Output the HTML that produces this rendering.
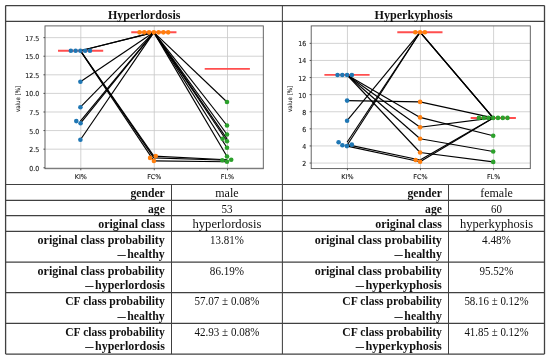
<!DOCTYPE html>
<html><head><meta charset="utf-8"><title>Counterfactual explanations</title>
<style>
html,body{margin:0;padding:0;background:#fff;}
body{width:550px;height:359px;overflow:hidden;}
svg{display:block;}
</style></head>
<body>
<svg width="550" height="359" viewBox="0 0 550 359">
<rect width="550" height="359" fill="#fff"/>
<line x1="45.0" y1="167.75" x2="263.3" y2="167.75" stroke="#c8c8c8" stroke-width="0.8"/>
<line x1="45.0" y1="149.16" x2="263.3" y2="149.16" stroke="#c8c8c8" stroke-width="0.8"/>
<line x1="45.0" y1="130.57" x2="263.3" y2="130.57" stroke="#c8c8c8" stroke-width="0.8"/>
<line x1="45.0" y1="111.99" x2="263.3" y2="111.99" stroke="#c8c8c8" stroke-width="0.8"/>
<line x1="45.0" y1="93.40" x2="263.3" y2="93.40" stroke="#c8c8c8" stroke-width="0.8"/>
<line x1="45.0" y1="74.81" x2="263.3" y2="74.81" stroke="#c8c8c8" stroke-width="0.8"/>
<line x1="45.0" y1="56.23" x2="263.3" y2="56.23" stroke="#c8c8c8" stroke-width="0.8"/>
<line x1="45.0" y1="37.64" x2="263.3" y2="37.64" stroke="#c8c8c8" stroke-width="0.8"/>
<line x1="80.8" y1="25.9" x2="80.8" y2="168.7" stroke="#c8c8c8" stroke-width="0.8"/>
<line x1="154.25" y1="25.9" x2="154.25" y2="168.7" stroke="#c8c8c8" stroke-width="0.8"/>
<line x1="227.5" y1="25.9" x2="227.5" y2="168.7" stroke="#c8c8c8" stroke-width="0.8"/>
<rect x="45.0" y="25.9" width="218.30" height="142.80" fill="none" stroke="#555" stroke-width="0.9"/>
<line x1="43.4" y1="167.75" x2="45.0" y2="167.75" stroke="#333" stroke-width="0.8"/>
<line x1="43.4" y1="149.16" x2="45.0" y2="149.16" stroke="#333" stroke-width="0.8"/>
<line x1="43.4" y1="130.57" x2="45.0" y2="130.57" stroke="#333" stroke-width="0.8"/>
<line x1="43.4" y1="111.99" x2="45.0" y2="111.99" stroke="#333" stroke-width="0.8"/>
<line x1="43.4" y1="93.40" x2="45.0" y2="93.40" stroke="#333" stroke-width="0.8"/>
<line x1="43.4" y1="74.81" x2="45.0" y2="74.81" stroke="#333" stroke-width="0.8"/>
<line x1="43.4" y1="56.23" x2="45.0" y2="56.23" stroke="#333" stroke-width="0.8"/>
<line x1="43.4" y1="37.64" x2="45.0" y2="37.64" stroke="#333" stroke-width="0.8"/>
<line x1="80.8" y1="168.7" x2="80.8" y2="170.29999999999998" stroke="#333" stroke-width="0.8"/>
<line x1="154.25" y1="168.7" x2="154.25" y2="170.29999999999998" stroke="#333" stroke-width="0.8"/>
<line x1="227.5" y1="168.7" x2="227.5" y2="170.29999999999998" stroke="#333" stroke-width="0.8"/>
<text x="39.2" y="170.70" text-anchor="end" font-family="'DejaVu Sans', sans-serif" font-size="6.9" textLength="9.97" lengthAdjust="spacingAndGlyphs" fill="#1a1a1a" stroke="#1a1a1a" stroke-width="0.12">0.0</text>
<text x="39.2" y="152.11" text-anchor="end" font-family="'DejaVu Sans', sans-serif" font-size="6.9" textLength="9.97" lengthAdjust="spacingAndGlyphs" fill="#1a1a1a" stroke="#1a1a1a" stroke-width="0.12">2.5</text>
<text x="39.2" y="133.52" text-anchor="end" font-family="'DejaVu Sans', sans-serif" font-size="6.9" textLength="9.97" lengthAdjust="spacingAndGlyphs" fill="#1a1a1a" stroke="#1a1a1a" stroke-width="0.12">5.0</text>
<text x="39.2" y="114.94" text-anchor="end" font-family="'DejaVu Sans', sans-serif" font-size="6.9" textLength="9.97" lengthAdjust="spacingAndGlyphs" fill="#1a1a1a" stroke="#1a1a1a" stroke-width="0.12">7.5</text>
<text x="39.2" y="96.35" text-anchor="end" font-family="'DejaVu Sans', sans-serif" font-size="6.9" textLength="13.96" lengthAdjust="spacingAndGlyphs" fill="#1a1a1a" stroke="#1a1a1a" stroke-width="0.12">10.0</text>
<text x="39.2" y="77.76" text-anchor="end" font-family="'DejaVu Sans', sans-serif" font-size="6.9" textLength="13.96" lengthAdjust="spacingAndGlyphs" fill="#1a1a1a" stroke="#1a1a1a" stroke-width="0.12">12.5</text>
<text x="39.2" y="59.18" text-anchor="end" font-family="'DejaVu Sans', sans-serif" font-size="6.9" textLength="13.96" lengthAdjust="spacingAndGlyphs" fill="#1a1a1a" stroke="#1a1a1a" stroke-width="0.12">15.0</text>
<text x="39.2" y="40.59" text-anchor="end" font-family="'DejaVu Sans', sans-serif" font-size="6.9" textLength="13.96" lengthAdjust="spacingAndGlyphs" fill="#1a1a1a" stroke="#1a1a1a" stroke-width="0.12">17.5</text>
<text x="80.8" y="179" text-anchor="middle" font-family="'DejaVu Sans', sans-serif" font-size="6.4" fill="#1a1a1a" stroke="#1a1a1a" stroke-width="0.12">KI%</text>
<text x="154.25" y="179" text-anchor="middle" font-family="'DejaVu Sans', sans-serif" font-size="6.4" fill="#1a1a1a" stroke="#1a1a1a" stroke-width="0.12">FC%</text>
<text x="227.5" y="179" text-anchor="middle" font-family="'DejaVu Sans', sans-serif" font-size="6.4" fill="#1a1a1a" stroke="#1a1a1a" stroke-width="0.12">FL%</text>
<text x="19.9" y="99.00" transform="rotate(-90 19.9 99.00)" text-anchor="middle" font-family="'DejaVu Sans', sans-serif" font-size="6.1" textLength="26.2" lengthAdjust="spacingAndGlyphs" fill="#2a2a2a" stroke="#2a2a2a" stroke-width="0.08">value [%]</text>
<line x1="58.00000000000001" y1="50.70" x2="103.20000000000002" y2="50.70" stroke="#ff4e4e" stroke-width="1.85"/>
<line x1="131.25" y1="32.20" x2="176.45" y2="32.20" stroke="#ff4e4e" stroke-width="1.85"/>
<line x1="204.70000000000002" y1="68.90" x2="249.9" y2="68.90" stroke="#ff4e4e" stroke-width="1.85"/>
<line x1="80.4" y1="50.70" x2="153.85" y2="32.35" stroke="#000" stroke-width="1.15"/>
<line x1="80.4" y1="50.70" x2="153.85" y2="32.35" stroke="#000" stroke-width="1.15"/>
<line x1="80.4" y1="81.80" x2="153.85" y2="32.35" stroke="#000" stroke-width="1.15"/>
<line x1="80.4" y1="107.20" x2="153.85" y2="32.35" stroke="#000" stroke-width="1.15"/>
<line x1="80.4" y1="121.10" x2="153.85" y2="32.35" stroke="#000" stroke-width="1.15"/>
<line x1="80.4" y1="123.30" x2="153.85" y2="32.35" stroke="#000" stroke-width="1.15"/>
<line x1="80.4" y1="139.80" x2="153.85" y2="32.35" stroke="#000" stroke-width="1.15"/>
<line x1="80.4" y1="50.70" x2="153.85" y2="156.10" stroke="#000" stroke-width="1.15"/>
<line x1="80.4" y1="50.70" x2="153.85" y2="157.90" stroke="#000" stroke-width="1.15"/>
<line x1="80.4" y1="50.70" x2="153.85" y2="160.90" stroke="#000" stroke-width="1.15"/>
<line x1="153.85" y1="32.35" x2="227.0" y2="102.00" stroke="#000" stroke-width="1.15"/>
<line x1="153.85" y1="32.35" x2="227.0" y2="125.50" stroke="#000" stroke-width="1.15"/>
<line x1="153.85" y1="32.35" x2="227.0" y2="134.50" stroke="#000" stroke-width="1.15"/>
<line x1="153.85" y1="32.35" x2="227.0" y2="138.80" stroke="#000" stroke-width="1.15"/>
<line x1="153.85" y1="32.35" x2="227.0" y2="141.20" stroke="#000" stroke-width="1.15"/>
<line x1="153.85" y1="32.35" x2="227.0" y2="147.80" stroke="#000" stroke-width="1.15"/>
<line x1="153.85" y1="32.35" x2="227.0" y2="156.50" stroke="#000" stroke-width="1.15"/>
<line x1="153.85" y1="156.10" x2="227.0" y2="159.80" stroke="#000" stroke-width="1.15"/>
<line x1="153.85" y1="157.90" x2="227.0" y2="160.30" stroke="#000" stroke-width="1.15"/>
<line x1="153.85" y1="160.90" x2="227.0" y2="161.70" stroke="#000" stroke-width="1.15"/>
<circle cx="70.84" cy="50.70" r="2.3" fill="#1f77b4"/>
<circle cx="75.62" cy="50.70" r="2.3" fill="#1f77b4"/>
<circle cx="80.4" cy="50.70" r="2.3" fill="#1f77b4"/>
<circle cx="85.18" cy="50.70" r="2.3" fill="#1f77b4"/>
<circle cx="89.96000000000001" cy="50.70" r="2.3" fill="#1f77b4"/>
<circle cx="80.4" cy="81.80" r="2.3" fill="#1f77b4"/>
<circle cx="80.4" cy="107.20" r="2.3" fill="#1f77b4"/>
<circle cx="76.30000000000001" cy="121.10" r="2.3" fill="#1f77b4"/>
<circle cx="80.60000000000001" cy="123.30" r="2.3" fill="#1f77b4"/>
<circle cx="80.4" cy="139.80" r="2.3" fill="#1f77b4"/>
<circle cx="139.51" cy="32.35" r="2.3" fill="#ff7f0e"/>
<circle cx="144.29" cy="32.35" r="2.3" fill="#ff7f0e"/>
<circle cx="149.07" cy="32.35" r="2.3" fill="#ff7f0e"/>
<circle cx="153.85" cy="32.35" r="2.3" fill="#ff7f0e"/>
<circle cx="158.63" cy="32.35" r="2.3" fill="#ff7f0e"/>
<circle cx="163.41" cy="32.35" r="2.3" fill="#ff7f0e"/>
<circle cx="168.19" cy="32.35" r="2.3" fill="#ff7f0e"/>
<circle cx="150.1" cy="157.90" r="2.3" fill="#ff7f0e"/>
<circle cx="155.7" cy="156.10" r="2.3" fill="#ff7f0e"/>
<circle cx="153.9" cy="160.90" r="2.3" fill="#ff7f0e"/>
<circle cx="227.0" cy="102.00" r="2.3" fill="#2ca02c"/>
<circle cx="227.0" cy="125.50" r="2.3" fill="#2ca02c"/>
<circle cx="227.0" cy="134.50" r="2.3" fill="#2ca02c"/>
<circle cx="222.6" cy="138.80" r="2.3" fill="#2ca02c"/>
<circle cx="227.0" cy="141.20" r="2.3" fill="#2ca02c"/>
<circle cx="227.0" cy="147.80" r="2.3" fill="#2ca02c"/>
<circle cx="227.0" cy="156.50" r="2.3" fill="#2ca02c"/>
<circle cx="222.3" cy="160.30" r="2.3" fill="#2ca02c"/>
<circle cx="227.0" cy="161.70" r="2.3" fill="#2ca02c"/>
<circle cx="231.2" cy="159.80" r="2.3" fill="#2ca02c"/>
<line x1="311.2" y1="163.05" x2="530.3" y2="163.05" stroke="#c8c8c8" stroke-width="0.8"/>
<line x1="311.2" y1="145.95" x2="530.3" y2="145.95" stroke="#c8c8c8" stroke-width="0.8"/>
<line x1="311.2" y1="128.85" x2="530.3" y2="128.85" stroke="#c8c8c8" stroke-width="0.8"/>
<line x1="311.2" y1="111.75" x2="530.3" y2="111.75" stroke="#c8c8c8" stroke-width="0.8"/>
<line x1="311.2" y1="94.65" x2="530.3" y2="94.65" stroke="#c8c8c8" stroke-width="0.8"/>
<line x1="311.2" y1="77.55" x2="530.3" y2="77.55" stroke="#c8c8c8" stroke-width="0.8"/>
<line x1="311.2" y1="60.45" x2="530.3" y2="60.45" stroke="#c8c8c8" stroke-width="0.8"/>
<line x1="311.2" y1="43.35" x2="530.3" y2="43.35" stroke="#c8c8c8" stroke-width="0.8"/>
<line x1="347.45" y1="25.9" x2="347.45" y2="168.6" stroke="#c8c8c8" stroke-width="0.8"/>
<line x1="420.45" y1="25.9" x2="420.45" y2="168.6" stroke="#c8c8c8" stroke-width="0.8"/>
<line x1="493.6" y1="25.9" x2="493.6" y2="168.6" stroke="#c8c8c8" stroke-width="0.8"/>
<rect x="311.2" y="25.9" width="219.10" height="142.70" fill="none" stroke="#555" stroke-width="0.9"/>
<line x1="309.59999999999997" y1="163.05" x2="311.2" y2="163.05" stroke="#333" stroke-width="0.8"/>
<line x1="309.59999999999997" y1="145.95" x2="311.2" y2="145.95" stroke="#333" stroke-width="0.8"/>
<line x1="309.59999999999997" y1="128.85" x2="311.2" y2="128.85" stroke="#333" stroke-width="0.8"/>
<line x1="309.59999999999997" y1="111.75" x2="311.2" y2="111.75" stroke="#333" stroke-width="0.8"/>
<line x1="309.59999999999997" y1="94.65" x2="311.2" y2="94.65" stroke="#333" stroke-width="0.8"/>
<line x1="309.59999999999997" y1="77.55" x2="311.2" y2="77.55" stroke="#333" stroke-width="0.8"/>
<line x1="309.59999999999997" y1="60.45" x2="311.2" y2="60.45" stroke="#333" stroke-width="0.8"/>
<line x1="309.59999999999997" y1="43.35" x2="311.2" y2="43.35" stroke="#333" stroke-width="0.8"/>
<line x1="347.45" y1="168.6" x2="347.45" y2="170.2" stroke="#333" stroke-width="0.8"/>
<line x1="420.45" y1="168.6" x2="420.45" y2="170.2" stroke="#333" stroke-width="0.8"/>
<line x1="493.6" y1="168.6" x2="493.6" y2="170.2" stroke="#333" stroke-width="0.8"/>
<text x="306.3" y="166.00" text-anchor="end" font-family="'DejaVu Sans', sans-serif" font-size="6.9" textLength="3.99" lengthAdjust="spacingAndGlyphs" fill="#1a1a1a" stroke="#1a1a1a" stroke-width="0.12">2</text>
<text x="306.3" y="148.90" text-anchor="end" font-family="'DejaVu Sans', sans-serif" font-size="6.9" textLength="3.99" lengthAdjust="spacingAndGlyphs" fill="#1a1a1a" stroke="#1a1a1a" stroke-width="0.12">4</text>
<text x="306.3" y="131.80" text-anchor="end" font-family="'DejaVu Sans', sans-serif" font-size="6.9" textLength="3.99" lengthAdjust="spacingAndGlyphs" fill="#1a1a1a" stroke="#1a1a1a" stroke-width="0.12">6</text>
<text x="306.3" y="114.70" text-anchor="end" font-family="'DejaVu Sans', sans-serif" font-size="6.9" textLength="3.99" lengthAdjust="spacingAndGlyphs" fill="#1a1a1a" stroke="#1a1a1a" stroke-width="0.12">8</text>
<text x="306.3" y="97.60" text-anchor="end" font-family="'DejaVu Sans', sans-serif" font-size="6.9" textLength="7.98" lengthAdjust="spacingAndGlyphs" fill="#1a1a1a" stroke="#1a1a1a" stroke-width="0.12">10</text>
<text x="306.3" y="80.50" text-anchor="end" font-family="'DejaVu Sans', sans-serif" font-size="6.9" textLength="7.98" lengthAdjust="spacingAndGlyphs" fill="#1a1a1a" stroke="#1a1a1a" stroke-width="0.12">12</text>
<text x="306.3" y="63.40" text-anchor="end" font-family="'DejaVu Sans', sans-serif" font-size="6.9" textLength="7.98" lengthAdjust="spacingAndGlyphs" fill="#1a1a1a" stroke="#1a1a1a" stroke-width="0.12">14</text>
<text x="306.3" y="46.30" text-anchor="end" font-family="'DejaVu Sans', sans-serif" font-size="6.9" textLength="7.98" lengthAdjust="spacingAndGlyphs" fill="#1a1a1a" stroke="#1a1a1a" stroke-width="0.12">16</text>
<text x="347.45" y="179" text-anchor="middle" font-family="'DejaVu Sans', sans-serif" font-size="6.4" fill="#1a1a1a" stroke="#1a1a1a" stroke-width="0.12">KI%</text>
<text x="420.45" y="179" text-anchor="middle" font-family="'DejaVu Sans', sans-serif" font-size="6.4" fill="#1a1a1a" stroke="#1a1a1a" stroke-width="0.12">FC%</text>
<text x="493.6" y="179" text-anchor="middle" font-family="'DejaVu Sans', sans-serif" font-size="6.4" fill="#1a1a1a" stroke="#1a1a1a" stroke-width="0.12">FL%</text>
<text x="291.8" y="98.95" transform="rotate(-90 291.8 98.95)" text-anchor="middle" font-family="'DejaVu Sans', sans-serif" font-size="6.1" textLength="26.2" lengthAdjust="spacingAndGlyphs" fill="#2a2a2a" stroke="#2a2a2a" stroke-width="0.08">value [%]</text>
<line x1="324.4" y1="74.80" x2="369.6" y2="74.80" stroke="#ff4e4e" stroke-width="1.85"/>
<line x1="397.3" y1="32.20" x2="442.50000000000006" y2="32.20" stroke="#ff4e4e" stroke-width="1.85"/>
<line x1="470.7" y1="118.00" x2="515.9" y2="118.00" stroke="#ff4e4e" stroke-width="1.85"/>
<line x1="347.1" y1="75.00" x2="420.1" y2="117.40" stroke="#000" stroke-width="1.15"/>
<line x1="347.1" y1="75.00" x2="420.1" y2="127.30" stroke="#000" stroke-width="1.15"/>
<line x1="347.1" y1="75.00" x2="420.1" y2="138.80" stroke="#000" stroke-width="1.15"/>
<line x1="347.1" y1="75.00" x2="420.1" y2="152.50" stroke="#000" stroke-width="1.15"/>
<line x1="347.1" y1="100.60" x2="420.1" y2="101.90" stroke="#000" stroke-width="1.15"/>
<line x1="347.1" y1="120.70" x2="420.1" y2="32.20" stroke="#000" stroke-width="1.15"/>
<line x1="347.1" y1="142.20" x2="420.1" y2="32.20" stroke="#000" stroke-width="1.15"/>
<line x1="347.1" y1="145.30" x2="420.1" y2="32.20" stroke="#000" stroke-width="1.15"/>
<line x1="347.1" y1="144.60" x2="420.1" y2="160.00" stroke="#000" stroke-width="1.15"/>
<line x1="347.1" y1="146.10" x2="420.1" y2="161.70" stroke="#000" stroke-width="1.15"/>
<line x1="420.1" y1="32.20" x2="493.2" y2="117.90" stroke="#000" stroke-width="1.15"/>
<line x1="420.1" y1="32.20" x2="493.2" y2="117.90" stroke="#000" stroke-width="1.15"/>
<line x1="420.1" y1="32.20" x2="493.2" y2="117.90" stroke="#000" stroke-width="1.15"/>
<line x1="420.1" y1="101.90" x2="493.2" y2="117.90" stroke="#000" stroke-width="1.15"/>
<line x1="420.1" y1="117.40" x2="493.2" y2="135.70" stroke="#000" stroke-width="1.15"/>
<line x1="420.1" y1="127.30" x2="493.2" y2="117.90" stroke="#000" stroke-width="1.15"/>
<line x1="420.1" y1="138.80" x2="493.2" y2="151.50" stroke="#000" stroke-width="1.15"/>
<line x1="420.1" y1="152.50" x2="493.2" y2="161.90" stroke="#000" stroke-width="1.15"/>
<line x1="420.1" y1="160.00" x2="493.2" y2="117.90" stroke="#000" stroke-width="1.15"/>
<line x1="420.1" y1="161.70" x2="493.2" y2="117.90" stroke="#000" stroke-width="1.15"/>
<circle cx="337.54" cy="75.00" r="2.3" fill="#1f77b4"/>
<circle cx="342.32000000000005" cy="75.00" r="2.3" fill="#1f77b4"/>
<circle cx="347.1" cy="75.00" r="2.3" fill="#1f77b4"/>
<circle cx="351.88" cy="75.00" r="2.3" fill="#1f77b4"/>
<circle cx="347.1" cy="100.60" r="2.3" fill="#1f77b4"/>
<circle cx="347.1" cy="120.70" r="2.3" fill="#1f77b4"/>
<circle cx="338.6" cy="142.20" r="2.3" fill="#1f77b4"/>
<circle cx="342.40000000000003" cy="145.30" r="2.3" fill="#1f77b4"/>
<circle cx="346.90000000000003" cy="146.10" r="2.3" fill="#1f77b4"/>
<circle cx="351.8" cy="144.60" r="2.3" fill="#1f77b4"/>
<circle cx="415.32000000000005" cy="32.20" r="2.3" fill="#ff7f0e"/>
<circle cx="420.1" cy="32.20" r="2.3" fill="#ff7f0e"/>
<circle cx="424.88" cy="32.20" r="2.3" fill="#ff7f0e"/>
<circle cx="420.1" cy="101.90" r="2.3" fill="#ff7f0e"/>
<circle cx="420.1" cy="117.40" r="2.3" fill="#ff7f0e"/>
<circle cx="420.1" cy="127.30" r="2.3" fill="#ff7f0e"/>
<circle cx="420.1" cy="138.80" r="2.3" fill="#ff7f0e"/>
<circle cx="420.1" cy="152.50" r="2.3" fill="#ff7f0e"/>
<circle cx="415.6" cy="160.00" r="2.3" fill="#ff7f0e"/>
<circle cx="420.1" cy="161.70" r="2.3" fill="#ff7f0e"/>
<circle cx="478.86" cy="117.90" r="2.3" fill="#2ca02c"/>
<circle cx="483.64" cy="117.90" r="2.3" fill="#2ca02c"/>
<circle cx="488.42" cy="117.90" r="2.3" fill="#2ca02c"/>
<circle cx="493.2" cy="117.90" r="2.3" fill="#2ca02c"/>
<circle cx="497.97999999999996" cy="117.90" r="2.3" fill="#2ca02c"/>
<circle cx="502.76" cy="117.90" r="2.3" fill="#2ca02c"/>
<circle cx="507.53999999999996" cy="117.90" r="2.3" fill="#2ca02c"/>
<circle cx="493.2" cy="135.70" r="2.3" fill="#2ca02c"/>
<circle cx="493.2" cy="151.50" r="2.3" fill="#2ca02c"/>
<circle cx="493.2" cy="161.90" r="2.3" fill="#2ca02c"/>
<line x1="5.6" y1="5.6" x2="544.5" y2="5.6" stroke="#404040" stroke-width="1.3"/>
<line x1="5.6" y1="354.1" x2="544.5" y2="354.1" stroke="#404040" stroke-width="1.3"/>
<line x1="5.6" y1="5.6" x2="5.6" y2="354.1" stroke="#404040" stroke-width="1.3"/>
<line x1="544.5" y1="5.6" x2="544.5" y2="354.1" stroke="#404040" stroke-width="1.3"/>
<line x1="5.6" y1="21.4" x2="544.5" y2="21.4" stroke="#404040" stroke-width="1.15"/>
<line x1="5.6" y1="184.5" x2="544.5" y2="184.5" stroke="#404040" stroke-width="1.15"/>
<line x1="5.6" y1="200.3" x2="544.5" y2="200.3" stroke="#404040" stroke-width="1.15"/>
<line x1="5.6" y1="215.6" x2="544.5" y2="215.6" stroke="#404040" stroke-width="1.15"/>
<line x1="5.6" y1="231.4" x2="544.5" y2="231.4" stroke="#404040" stroke-width="1.15"/>
<line x1="5.6" y1="262.1" x2="544.5" y2="262.1" stroke="#404040" stroke-width="1.15"/>
<line x1="5.6" y1="292.6" x2="544.5" y2="292.6" stroke="#404040" stroke-width="1.15"/>
<line x1="5.6" y1="323.4" x2="544.5" y2="323.4" stroke="#404040" stroke-width="1.15"/>
<line x1="282.4" y1="5.6" x2="282.4" y2="354.1" stroke="#404040" stroke-width="1.05"/>
<line x1="171.5" y1="184.5" x2="171.5" y2="354.1" stroke="#404040" stroke-width="1.05"/>
<line x1="448.5" y1="184.5" x2="448.5" y2="354.1" stroke="#404040" stroke-width="1.05"/>
<text x="144.2" y="18.6" text-anchor="middle" font-family="'Liberation Serif', serif" font-size="12" font-weight="bold" textLength="72.4" lengthAdjust="spacingAndGlyphs" fill="#111">Hyperlordosis</text>
<text x="413.6" y="18.6" text-anchor="middle" font-family="'Liberation Serif', serif" font-size="12" font-weight="bold" textLength="78.3" lengthAdjust="spacingAndGlyphs" fill="#111">Hyperkyphosis</text>
<text x="164.8" y="197.0" text-anchor="end" font-family="'Liberation Serif', serif" font-size="12" font-weight="bold" textLength="34.4" lengthAdjust="spacingAndGlyphs" fill="#111">gender</text>
<text x="441.9" y="197.0" text-anchor="end" font-family="'Liberation Serif', serif" font-size="12" font-weight="bold" textLength="34.4" lengthAdjust="spacingAndGlyphs" fill="#111">gender</text>
<text x="226.95" y="197.0" text-anchor="middle" font-family="'Liberation Serif', serif" font-size="12" fill="#111">male</text>
<text x="496.5" y="197.0" text-anchor="middle" font-family="'Liberation Serif', serif" font-size="12" fill="#111">female</text>
<text x="164.8" y="212.6" text-anchor="end" font-family="'Liberation Serif', serif" font-size="12" font-weight="bold" textLength="16.8" lengthAdjust="spacingAndGlyphs" fill="#111">age</text>
<text x="441.9" y="212.6" text-anchor="end" font-family="'Liberation Serif', serif" font-size="12" font-weight="bold" textLength="16.8" lengthAdjust="spacingAndGlyphs" fill="#111">age</text>
<text x="226.95" y="212.6" text-anchor="middle" font-family="'Liberation Serif', serif" font-size="12" textLength="11.1" lengthAdjust="spacingAndGlyphs" fill="#111">53</text>
<text x="496.5" y="212.6" text-anchor="middle" font-family="'Liberation Serif', serif" font-size="12" textLength="10.9" lengthAdjust="spacingAndGlyphs" fill="#111">60</text>
<text x="164.8" y="228.1" text-anchor="end" font-family="'Liberation Serif', serif" font-size="12" font-weight="bold" textLength="66.6" lengthAdjust="spacingAndGlyphs" fill="#111">original class</text>
<text x="441.9" y="228.1" text-anchor="end" font-family="'Liberation Serif', serif" font-size="12" font-weight="bold" textLength="66.6" lengthAdjust="spacingAndGlyphs" fill="#111">original class</text>
<text x="226.95" y="228.1" text-anchor="middle" font-family="'Liberation Serif', serif" font-size="12" textLength="69" lengthAdjust="spacingAndGlyphs" fill="#111">hyperlordosis</text>
<text x="496.5" y="228.1" text-anchor="middle" font-family="'Liberation Serif', serif" font-size="12" textLength="73.1" lengthAdjust="spacingAndGlyphs" fill="#111">hyperkyphosis</text>
<text x="164.8" y="243.7" text-anchor="end" font-family="'Liberation Serif', serif" font-size="12" font-weight="bold" textLength="127.2" lengthAdjust="spacingAndGlyphs" fill="#111">original class probability</text>
<text x="164.8" y="258.3" text-anchor="end" font-family="'Liberation Serif', serif" font-size="12" font-weight="bold" textLength="37.6" lengthAdjust="spacingAndGlyphs" fill="#111">healthy</text>
<text x="125.60" y="258.3" text-anchor="end" font-family="'Liberation Serif', serif" font-size="12" font-weight="bold" textLength="8.2" lengthAdjust="spacingAndGlyphs" fill="#111">–</text>
<text x="441.9" y="243.7" text-anchor="end" font-family="'Liberation Serif', serif" font-size="12" font-weight="bold" textLength="127.2" lengthAdjust="spacingAndGlyphs" fill="#111">original class probability</text>
<text x="441.9" y="258.3" text-anchor="end" font-family="'Liberation Serif', serif" font-size="12" font-weight="bold" textLength="37.6" lengthAdjust="spacingAndGlyphs" fill="#111">healthy</text>
<text x="402.70" y="258.3" text-anchor="end" font-family="'Liberation Serif', serif" font-size="12" font-weight="bold" textLength="8.2" lengthAdjust="spacingAndGlyphs" fill="#111">–</text>
<text x="226.95" y="243.7" text-anchor="middle" font-family="'Liberation Serif', serif" font-size="12" textLength="33.7" lengthAdjust="spacingAndGlyphs" fill="#111">13.81%</text>
<text x="496.5" y="243.7" text-anchor="middle" font-family="'Liberation Serif', serif" font-size="12" textLength="28.9" lengthAdjust="spacingAndGlyphs" fill="#111">4.48%</text>
<text x="164.8" y="274.5" text-anchor="end" font-family="'Liberation Serif', serif" font-size="12" font-weight="bold" textLength="127.2" lengthAdjust="spacingAndGlyphs" fill="#111">original class probability</text>
<text x="164.8" y="289.1" text-anchor="end" font-family="'Liberation Serif', serif" font-size="12" font-weight="bold" textLength="69.8" lengthAdjust="spacingAndGlyphs" fill="#111">hyperlordosis</text>
<text x="93.40" y="289.1" text-anchor="end" font-family="'Liberation Serif', serif" font-size="12" font-weight="bold" textLength="8.2" lengthAdjust="spacingAndGlyphs" fill="#111">–</text>
<text x="441.9" y="274.5" text-anchor="end" font-family="'Liberation Serif', serif" font-size="12" font-weight="bold" textLength="127.2" lengthAdjust="spacingAndGlyphs" fill="#111">original class probability</text>
<text x="441.9" y="289.1" text-anchor="end" font-family="'Liberation Serif', serif" font-size="12" font-weight="bold" textLength="76.4" lengthAdjust="spacingAndGlyphs" fill="#111">hyperkyphosis</text>
<text x="363.90" y="289.1" text-anchor="end" font-family="'Liberation Serif', serif" font-size="12" font-weight="bold" textLength="8.2" lengthAdjust="spacingAndGlyphs" fill="#111">–</text>
<text x="226.95" y="274.5" text-anchor="middle" font-family="'Liberation Serif', serif" font-size="12" textLength="34.2" lengthAdjust="spacingAndGlyphs" fill="#111">86.19%</text>
<text x="496.5" y="274.5" text-anchor="middle" font-family="'Liberation Serif', serif" font-size="12" textLength="33.9" lengthAdjust="spacingAndGlyphs" fill="#111">95.52%</text>
<text x="164.8" y="305.2" text-anchor="end" font-family="'Liberation Serif', serif" font-size="12" font-weight="bold" textLength="99.6" lengthAdjust="spacingAndGlyphs" fill="#111">CF class probability</text>
<text x="164.8" y="319.8" text-anchor="end" font-family="'Liberation Serif', serif" font-size="12" font-weight="bold" textLength="37.6" lengthAdjust="spacingAndGlyphs" fill="#111">healthy</text>
<text x="125.60" y="319.8" text-anchor="end" font-family="'Liberation Serif', serif" font-size="12" font-weight="bold" textLength="8.2" lengthAdjust="spacingAndGlyphs" fill="#111">–</text>
<text x="441.9" y="305.2" text-anchor="end" font-family="'Liberation Serif', serif" font-size="12" font-weight="bold" textLength="99.6" lengthAdjust="spacingAndGlyphs" fill="#111">CF class probability</text>
<text x="441.9" y="319.8" text-anchor="end" font-family="'Liberation Serif', serif" font-size="12" font-weight="bold" textLength="37.6" lengthAdjust="spacingAndGlyphs" fill="#111">healthy</text>
<text x="402.70" y="319.8" text-anchor="end" font-family="'Liberation Serif', serif" font-size="12" font-weight="bold" textLength="8.2" lengthAdjust="spacingAndGlyphs" fill="#111">–</text>
<text x="226.95" y="305.2" text-anchor="middle" font-family="'Liberation Serif', serif" font-size="12" textLength="64.9" lengthAdjust="spacingAndGlyphs" fill="#111">57.07 ± 0.08%</text>
<text x="496.5" y="305.2" text-anchor="middle" font-family="'Liberation Serif', serif" font-size="12" textLength="64.2" lengthAdjust="spacingAndGlyphs" fill="#111">58.16 ± 0.12%</text>
<text x="164.8" y="335.8" text-anchor="end" font-family="'Liberation Serif', serif" font-size="12" font-weight="bold" textLength="99.6" lengthAdjust="spacingAndGlyphs" fill="#111">CF class probability</text>
<text x="164.8" y="350.4" text-anchor="end" font-family="'Liberation Serif', serif" font-size="12" font-weight="bold" textLength="69.8" lengthAdjust="spacingAndGlyphs" fill="#111">hyperlordosis</text>
<text x="93.40" y="350.4" text-anchor="end" font-family="'Liberation Serif', serif" font-size="12" font-weight="bold" textLength="8.2" lengthAdjust="spacingAndGlyphs" fill="#111">–</text>
<text x="441.9" y="335.8" text-anchor="end" font-family="'Liberation Serif', serif" font-size="12" font-weight="bold" textLength="99.6" lengthAdjust="spacingAndGlyphs" fill="#111">CF class probability</text>
<text x="441.9" y="350.4" text-anchor="end" font-family="'Liberation Serif', serif" font-size="12" font-weight="bold" textLength="76.4" lengthAdjust="spacingAndGlyphs" fill="#111">hyperkyphosis</text>
<text x="363.90" y="350.4" text-anchor="end" font-family="'Liberation Serif', serif" font-size="12" font-weight="bold" textLength="8.2" lengthAdjust="spacingAndGlyphs" fill="#111">–</text>
<text x="226.95" y="335.8" text-anchor="middle" font-family="'Liberation Serif', serif" font-size="12" textLength="64.9" lengthAdjust="spacingAndGlyphs" fill="#111">42.93 ± 0.08%</text>
<text x="496.5" y="335.8" text-anchor="middle" font-family="'Liberation Serif', serif" font-size="12" textLength="64.2" lengthAdjust="spacingAndGlyphs" fill="#111">41.85 ± 0.12%</text>
</svg>
</body></html>
